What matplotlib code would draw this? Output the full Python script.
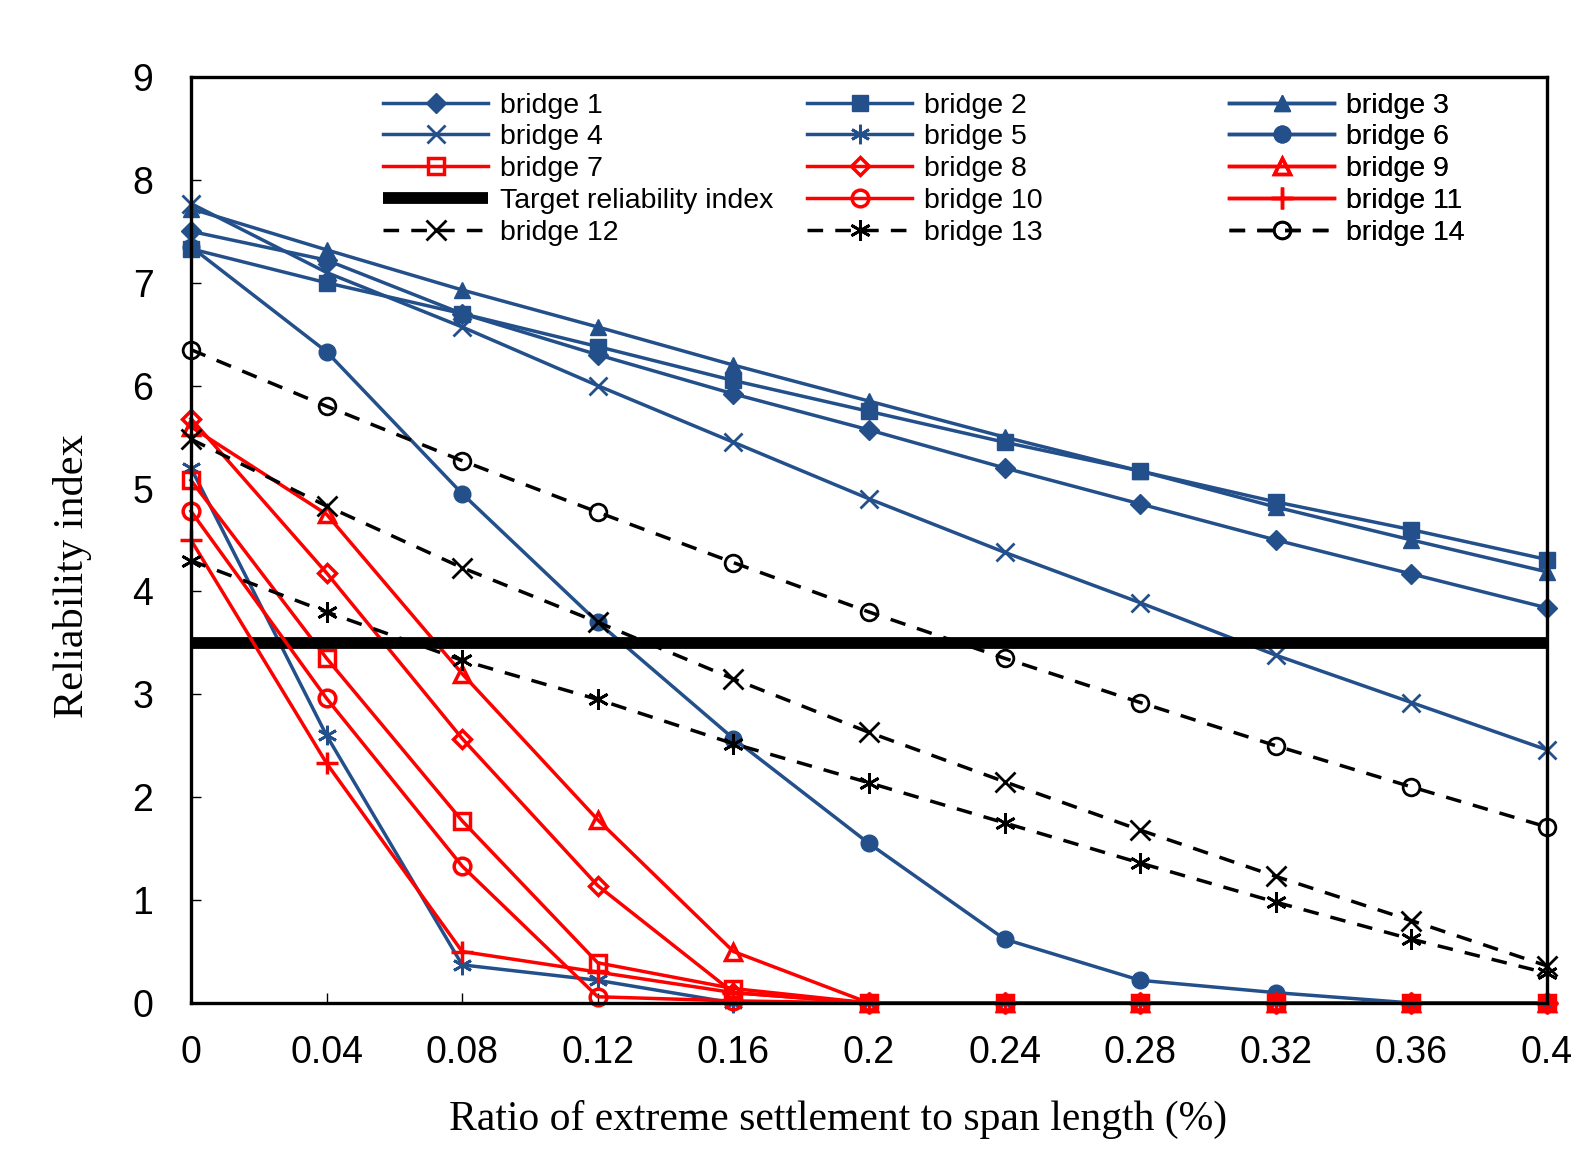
import numpy as np
import matplotlib
matplotlib.use('Agg')
import matplotlib.pyplot as plt

# data
x = [0, 0.04, 0.08, 0.12, 0.16, 0.2, 0.24, 0.28, 0.32, 0.36, 0.4]
bridge1 = [7.5, 7.22, 6.7, 6.3, 5.92, 5.57, 5.2, 4.85, 4.5, 4.17, 3.84]
bridge2 = [7.33, 7.0, 6.7, 6.38, 6.05, 5.75, 5.45, 5.17, 4.87, 4.6, 4.31]
bridge3 = [7.72, 7.32, 6.93, 6.57, 6.2, 5.85, 5.5, 5.17, 4.82, 4.5, 4.19]
bridge4 = [7.77, 7.1, 6.57, 6.0, 5.45, 4.9, 4.38, 3.89, 3.38, 2.92, 2.46]
bridge5 = [5.2, 2.6, 0.37, 0.22, 0, 0, 0, 0, 0, 0, 0]
bridge6 = [7.35, 6.33, 4.95, 3.7, 2.57, 1.55, 0.62, 0.22, 0.1, 0, 0]
bridge7 = [5.08, 3.35, 1.77, 0.39, 0.14, 0, 0, 0, 0, 0, 0]
bridge8 = [5.68, 4.18, 2.57, 1.14, 0.1, 0, 0, 0, 0, 0, 0]
bridge9 = [5.6, 4.75, 3.2, 1.78, 0.5, 0, 0, 0, 0, 0, 0]
bridge10 = [4.78, 2.96, 1.33, 0.06, 0.02, 0, 0, 0, 0, 0, 0]
bridge11 = [4.5, 2.33, 0.5, 0.3, 0.1, 0, 0, 0, 0, 0, 0]
bridge12 = [5.48, 4.83, 4.23, 3.7, 3.15, 2.63, 2.15, 1.68, 1.23, 0.8, 0.36]
bridge13 = [4.3, 3.8, 3.33, 2.95, 2.52, 2.14, 1.75, 1.36, 0.98, 0.62, 0.29]
bridge14 = [6.35, 5.8, 5.27, 4.77, 4.28, 3.8, 3.35, 2.92, 2.5, 2.1, 1.71]
target = 3.5

navy = '#23508a'
red = '#ff0000'
sans = 'Liberation Sans'
serif = 'Liberation Serif'

fig = plt.figure(figsize=(15.82, 11.56), dpi=100)
ax = fig.add_axes([0.1207, 0.1324, 0.8572, 0.801])

h = {}
# navy series
h[1] = ax.plot(x, bridge1, color=navy, lw=2.5, marker='D', ms=10, clip_on=False)[0]
h[2] = ax.plot(x, bridge2, color=navy, lw=2.5, marker='s', ms=11, clip_on=False)[0]
h[3] = ax.plot(x, bridge3, color=navy, lw=2.5, marker='^', ms=12, clip_on=False)[0]
h[4] = ax.plot(x, bridge4, color=navy, lw=2.5, marker='x', ms=13, mew=2, clip_on=False)[0]
h[5] = ax.plot(x, bridge5, color=navy, lw=2.5, marker=(6, 2, 0), ms=14, mew=2, clip_on=False)[0]
h[6] = ax.plot(x, bridge6, color=navy, lw=2.5, marker='o', ms=12, clip_on=False)[0]
# red series
h[7] = ax.plot(x, bridge7, color=red, lw=2.5, marker='s', ms=11, mfc='none', mew=2.5, clip_on=False)[0]
h[8] = ax.plot(x, bridge8, color=red, lw=2.5, marker='D', ms=9, mfc='none', mew=2.5, clip_on=False)[0]
h[9] = ax.plot(x, bridge9, color=red, lw=2.5, marker='^', ms=12, mfc='none', mew=2.5, clip_on=False)[0]
h['t'] = ax.axhline(target, color='black', lw=8.5, solid_capstyle='butt')
h[10] = ax.plot(x, bridge10, color=red, lw=2.5, marker='o', ms=12, mfc='none', mew=2.5, clip_on=False)[0]
h[11] = ax.plot(x, bridge11, color=red, lw=2.5, marker='+', ms=16, mew=2.5, clip_on=False)[0]
# black dashed series
dash = (4.5, 3.5)
h[12] = ax.plot(x, bridge12, color='black', lw=2.5, dashes=dash, marker='x', ms=14, mew=2, clip_on=False)[0]
h[13] = ax.plot(x, bridge13, color='black', lw=2.5, dashes=dash, marker=(6, 2, 0), ms=15, mew=2, clip_on=False)[0]
h[14] = ax.plot(x, bridge14, color='black', lw=2.5, dashes=dash, marker='o', ms=12, mfc='none', mew=2, clip_on=False)[0]

ax.set_xlim(0, 0.4)
ax.set_ylim(0, 9)
ax.set_xticks(x)
ax.set_xticklabels([f'{v:g}' for v in x])
ax.set_yticks(range(0, 10))

for s in ax.spines.values():
    s.set_linewidth(2.4)
    s.set_zorder(5)
ax.tick_params(axis='both', direction='in', length=7, width=1, labelsize=27)
ax.tick_params(axis='x', pad=23)
ax.tick_params(axis='y', pad=27)
for lab in ax.get_xticklabels() + ax.get_yticklabels():
    lab.set_fontfamily(sans)

ax.set_xlabel('Ratio of extreme settlement to span length (%)', fontsize=30, fontfamily=serif, labelpad=20)
ax.set_ylabel('Reliability index', fontsize=30.5, fontfamily=serif, labelpad=30)
ax.xaxis.set_label_coords(0.477, -0.105)
ax.yaxis.set_label_coords(-0.073, 0.461)

# legend laid out row by row in three columns
cols = [
    [(h[1], 'bridge 1'), (h[4], 'bridge 4'), (h[7], 'bridge 7'), (h['t'], 'Target reliability index'), (h[12], 'bridge 12')],
    [(h[2], 'bridge 2'), (h[5], 'bridge 5'), (h[8], 'bridge 8'), (h[10], 'bridge 10'), (h[13], 'bridge 13')],
    [(h[3], 'bridge 3'), (h[6], 'bridge 6'), (h[9], 'bridge 9'), (h[11], 'bridge 11'), (h[14], 'bridge 14')],
]
col_x = [0.1416, 0.4543, 0.7655]
for cx, col in zip(col_x, cols):
    leg = ax.legend([c[0] for c in col], [c[1] for c in col], loc='upper left',
                    bbox_to_anchor=(cx, 0.983), frameon=False, borderpad=0, borderaxespad=0,
                    handlelength=3.7, handletextpad=0.42, labelspacing=0.2,
                    prop={'family': sans, 'size': 20.5})
    ax.add_artist(leg)

fig.savefig('out.png', dpi=100)
